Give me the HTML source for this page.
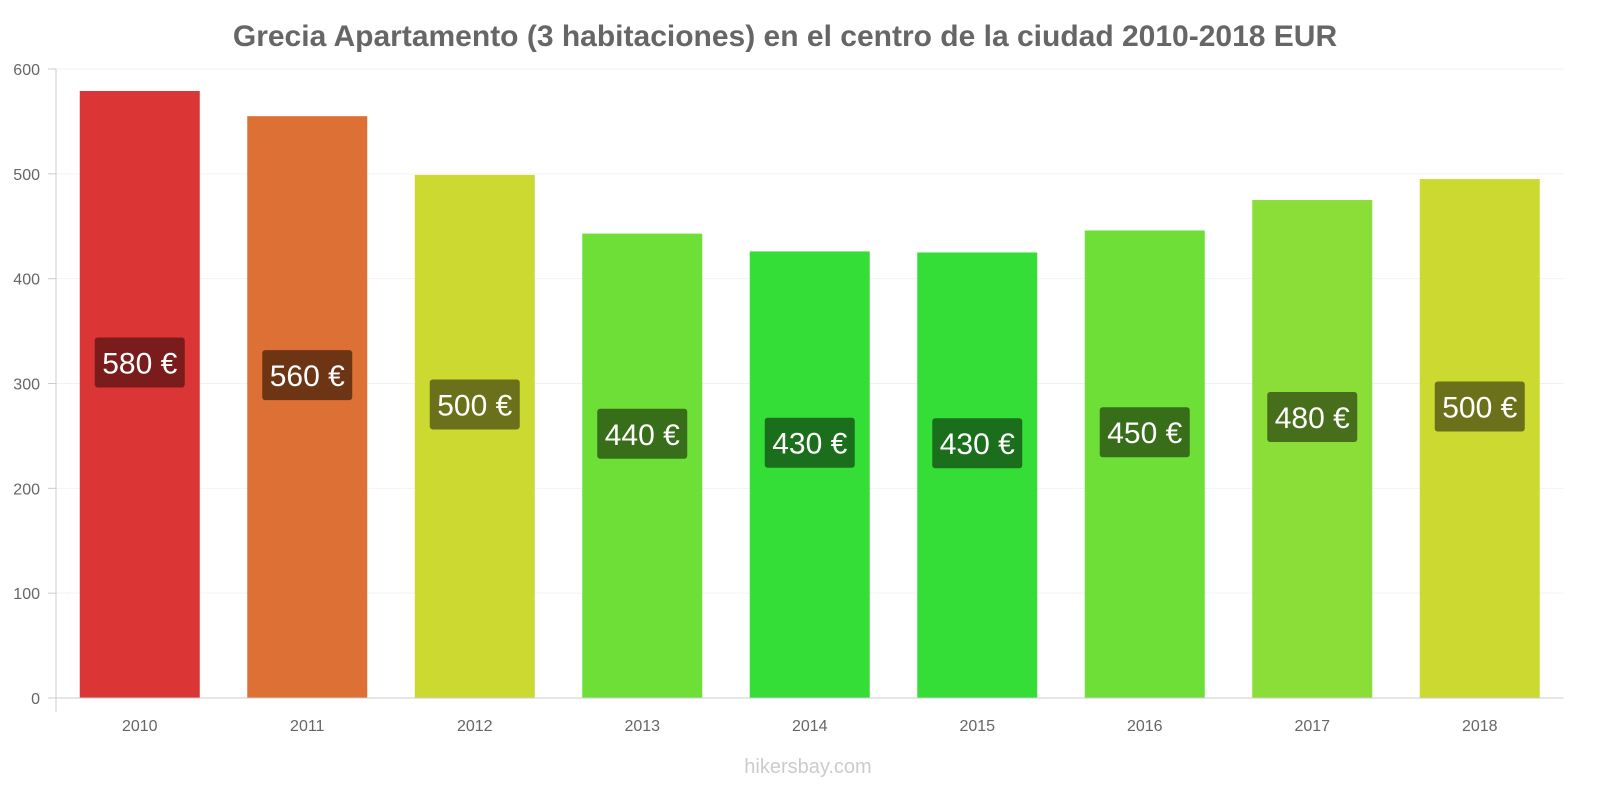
<!DOCTYPE html>
<html><head><meta charset="utf-8"><style>
body{margin:0;background:#fff;font-family:"Liberation Sans",sans-serif;}
svg text{font-family:"Liberation Sans",sans-serif;}
</style></head><body>
<svg id="chart" width="1600" height="800" xmlns="http://www.w3.org/2000/svg">
<text x="785" y="46" text-anchor="middle" font-size="30" font-weight="bold" fill="#666">Grecia Apartamento (3 habitaciones) en el centro de la ciudad 2010-2018 EUR</text>
<g id="grid"></g><g id="bars"></g><g id="axes"></g>
<text x="808" y="773" text-anchor="middle" font-size="20" fill="#ccc">hikersbay.com</text>
</svg>
<script>
const categories=["2010","2011","2012","2013","2014","2015","2016","2017","2018"];
const values=[579,555,499,443,426,425,446,475,495];
const labels=["580 €","560 €","500 €","440 €","430 €","430 €","450 €","480 €","500 €"];
const yTicks=[0,100,200,300,400,500,600];
const fills=["#dc3535","#dd7035","#cbd930","#6ddf37","#35dd37","#35dd37","#6ddf37","#8ade37","#cbd930"];
const labelBgs=["#7a1c1c","#6e3515","#6b711a","#386d1a","#1b6e1b","#1b6e1b","#386d1a","#476e1a","#6b711a"];
const NS="http://www.w3.org/2000/svg";
const x0=56,x1=1563.5,yBase=698,yTop=69,yMax=600;
const band=(x1-x0)/categories.length;
const y=v=>yBase-(v/yMax)*(yBase-yTop);
const xc=i=>x0+band*(i+0.5);
function mk(tag,attrs,parent){const e=document.createElementNS(NS,tag);for(const k in attrs)e.setAttribute(k,attrs[k]);parent.appendChild(e);return e;}
const grid=document.getElementById('grid'),bars=document.getElementById('bars'),axes=document.getElementById('axes');
yTicks.forEach(t=>{
 const l=mk('line',{x1:x0,x2:x1,y1:y(t),y2:y(t),stroke:"#f2f2f2"},grid);
 
 
 const tk=mk('line',{x1:48,x2:x0,y1:y(t),y2:y(t),stroke:"#ccc"},axes);
 
 
 const tx=mk('text',{x:40,y:y(t)+6,"text-anchor":"end","font-size":16,fill:"#666"},axes);
 tx.textContent=t;
 
 
});
const ya=mk('line',{x1:x0,x2:x0,y1:yTop,y2:712,stroke:"#ccc"},axes);


const xa=mk('line',{x1:48,x2:x1,y1:yBase,y2:yBase,stroke:"#ccc"},axes);


const bw=120;
categories.forEach((c,i)=>{
 const top=y(values[i]);
 const r=mk('rect',{x:xc(i)-bw/2,y:top,width:bw,height:yBase-top,fill:fills[i]},bars);
 
 
 const ly=(top+yBase)/2-32;
 const lb=mk('rect',{x:xc(i)-45,y:ly-25,width:90,height:50,rx:3,fill:labelBgs[i]},bars);
 
 
 const lt=mk('text',{x:xc(i),y:ly+11,"text-anchor":"middle","font-size":30,fill:"#fff"},bars);
 lt.textContent=labels[i];
 
 
 const xt=mk('text',{x:xc(i),y:731,"text-anchor":"middle","font-size":16,fill:"#666"},axes);
 xt.textContent=c;
 
 
});
</script>
</body></html>
